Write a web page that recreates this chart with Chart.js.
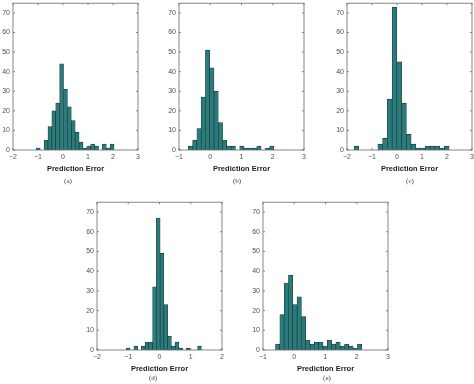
<!DOCTYPE html>
<html>
<head>
<meta charset="utf-8">
<script src="https://cdn.jsdelivr.net/npm/chart.js@4.4.0/dist/chart.umd.min.js"></script>
<style>
  body { margin: 0; width: 474px; height: 384px; overflow: hidden; background: #fff; position: relative; }
  canvas { position: absolute; }
  .cap { position: absolute; font: 7px "Liberation Serif", serif; color: #333; transform: translateX(-50%); line-height: 8px; white-space: nowrap; will-change: transform; opacity: 0.99; }
</style>
</head>
<body>
<canvas id="ca" width="155" height="177" style="left:-7px;top:-4px"></canvas>
<canvas id="cb" width="155" height="177" style="left:159px;top:-4px"></canvas>
<canvas id="cc" width="155" height="177" style="left:327px;top:-4px"></canvas>
<canvas id="cd" width="155" height="178" style="left:77px;top:195px"></canvas>
<canvas id="ce" width="155" height="178" style="left:243px;top:195px"></canvas>
<div class="cap" style="left:68px;top:177px">(a)</div>
<div class="cap" style="left:237px;top:177px">(b)</div>
<div class="cap" style="left:410px;top:177px">(c)</div>
<div class="cap" style="left:153px;top:374px">(d)</div>
<div class="cap" style="left:327px;top:374px">(e)</div>
<script>
// bin centres and counts
const binsA = [-0.990, -0.835, -0.679, -0.524, -0.368, -0.213, -0.057, 0.099, 0.254, 0.410, 0.565, 0.721, 0.876, 1.032, 1.187, 1.343, 1.498, 1.654, 1.809, 1.965];
const countsA = [1, 0, 5, 12, 20, 24, 44, 31, 22, 15, 9, 4, 1, 2, 3, 2, 0, 3, 1, 3];

const binsB = [-0.633, -0.496, -0.359, -0.222, -0.085, 0.052, 0.189, 0.326, 0.463, 0.600, 0.737, 0.874, 1.011, 1.148, 1.285, 1.422, 1.559, 1.696, 1.833, 1.970];
const countsB = [2, 5, 11, 27, 51, 42, 30, 14, 5, 2, 2, 0, 2, 1, 1, 1, 2, 0, 1, 2];

const binsC = [-1.620, -1.430, -1.240, -1.050, -0.860, -0.670, -0.480, -0.290, -0.100, 0.090, 0.280, 0.470, 0.660, 0.850, 1.040, 1.230, 1.420, 1.610, 1.800, 1.990];
const countsC = [2, 0, 0, 0, 0, 3, 6, 26, 73, 45, 24, 8, 3, 1, 1, 2, 2, 2, 1, 2];

const binsD = [-1.00, -0.88, -0.76, -0.64, -0.52, -0.40, -0.28, -0.16, -0.04, 0.08, 0.20, 0.32, 0.44, 0.56, 0.68, 0.80, 0.92, 1.04, 1.16, 1.28];
const countsD = [1, 0, 2, 0, 2, 4, 4, 32, 67, 49, 23, 7, 2, 4, 1, 0, 1, 0, 0, 2];

const binsE = [-0.530, -0.392, -0.254, -0.116, 0.022, 0.160, 0.298, 0.436, 0.574, 0.712, 0.850, 0.988, 1.126, 1.264, 1.402, 1.540, 1.678, 1.816, 1.954, 2.092];
const countsE = [3, 18, 34, 38, 23, 27, 17, 5, 3, 4, 4, 2, 5, 3, 4, 2, 3, 2, 1, 3];

const xTicksA = [-2, -1, 0, 1, 2, 3];
const xTicksB = [-1, 0, 1, 2, 3];
const xTicksC = [-2, -1, 0, 1, 2, 3];
const xTicksD = [-2, -1, 0, 1, 2];
const xTicksE = [-1, 0, 1, 2, 3];
const yTicks = [0, 10, 20, 30, 40, 50, 60, 70];
const yMax = 75;
const xTitle = 'Prediction Error';

Chart.defaults.font.family = '"Liberation Sans", Arial, sans-serif';

// MATLAB-like box with inward ticks
const frameTicks = {
    id: 'frameTicks',
    afterDraw(chart) {
        const { ctx, chartArea: a, scales: { x, y } } = chart;
        ctx.save();
        ctx.strokeStyle = '#6a6a6a';
        ctx.lineWidth = 0.8;
        ctx.strokeRect(a.left, a.top, a.right - a.left, a.bottom - a.top);
        ctx.beginPath();
        x.ticks.forEach(t => {
            const px = x.getPixelForValue(t.value);
            ctx.moveTo(px, a.bottom); ctx.lineTo(px, a.bottom - 2);
            ctx.moveTo(px, a.top); ctx.lineTo(px, a.top + 2);
        });
        y.ticks.forEach(t => {
            const py = y.getPixelForValue(t.value);
            ctx.moveTo(a.left, py); ctx.lineTo(a.left + 2, py);
            ctx.moveTo(a.right, py); ctx.lineTo(a.right - 2, py);
        });
        ctx.stroke();
        ctx.restore();
    }
};

function fmt(v) {
    return v < 0 ? '\u2212' + Math.abs(v) : String(v);
}

function drawHist(id, bins, counts, xTicks) {
    const ctx = document.getElementById(id).getContext('2d');
    new Chart(ctx, {
        type: 'bar',
        data: {
            datasets: [{
                data: bins.map((b, i) => ({ x: b, y: counts[i] })),
                backgroundColor: '#2a7b7c',
                borderColor: '#1a3b3c',
                borderWidth: 0.7,
                barPercentage: 1,
                categoryPercentage: 1
            }]
        },
        options: {
            responsive: false,
            animation: false,
            devicePixelRatio: 1,
            layout: { padding: { left: 0, top: 5, right: 10, bottom: 0 } },
            plugins: { legend: { display: false }, tooltip: { enabled: false } },
            scales: {
                x: {
                    type: 'linear',
                    offset: false,
                    min: xTicks[0],
                    max: xTicks[xTicks.length - 1],
                    grid: { display: false, drawTicks: false },
                    border: { display: false },
                    afterBuildTicks: s => { s.ticks = xTicks.map(v => ({ value: v })); },
                    afterFit: s => { s.height = 23; },
                    ticks: { padding: 3, color: '#505050', font: { size: 7 }, maxRotation: 0, callback: v => fmt(v) },
                    title: { display: true, text: xTitle, color: '#222', padding: 0, font: { size: 7.5, weight: 'bold' } }
                },
                y: {
                    min: 0,
                    max: yMax,
                    grid: { display: false, drawTicks: false },
                    border: { display: false },
                    afterBuildTicks: s => { s.ticks = yTicks.map(v => ({ value: v })); },
                    afterFit: s => { s.width = 20; },
                    ticks: { padding: 3, color: '#505050', font: { size: 7 } }
                }
            }
        },
        plugins: [frameTicks]
    });
}

drawHist('ca', binsA, countsA, xTicksA);
drawHist('cb', binsB, countsB, xTicksB);
drawHist('cc', binsC, countsC, xTicksC);
drawHist('cd', binsD, countsD, xTicksD);
drawHist('ce', binsE, countsE, xTicksE);
</script>
</body>
</html>
